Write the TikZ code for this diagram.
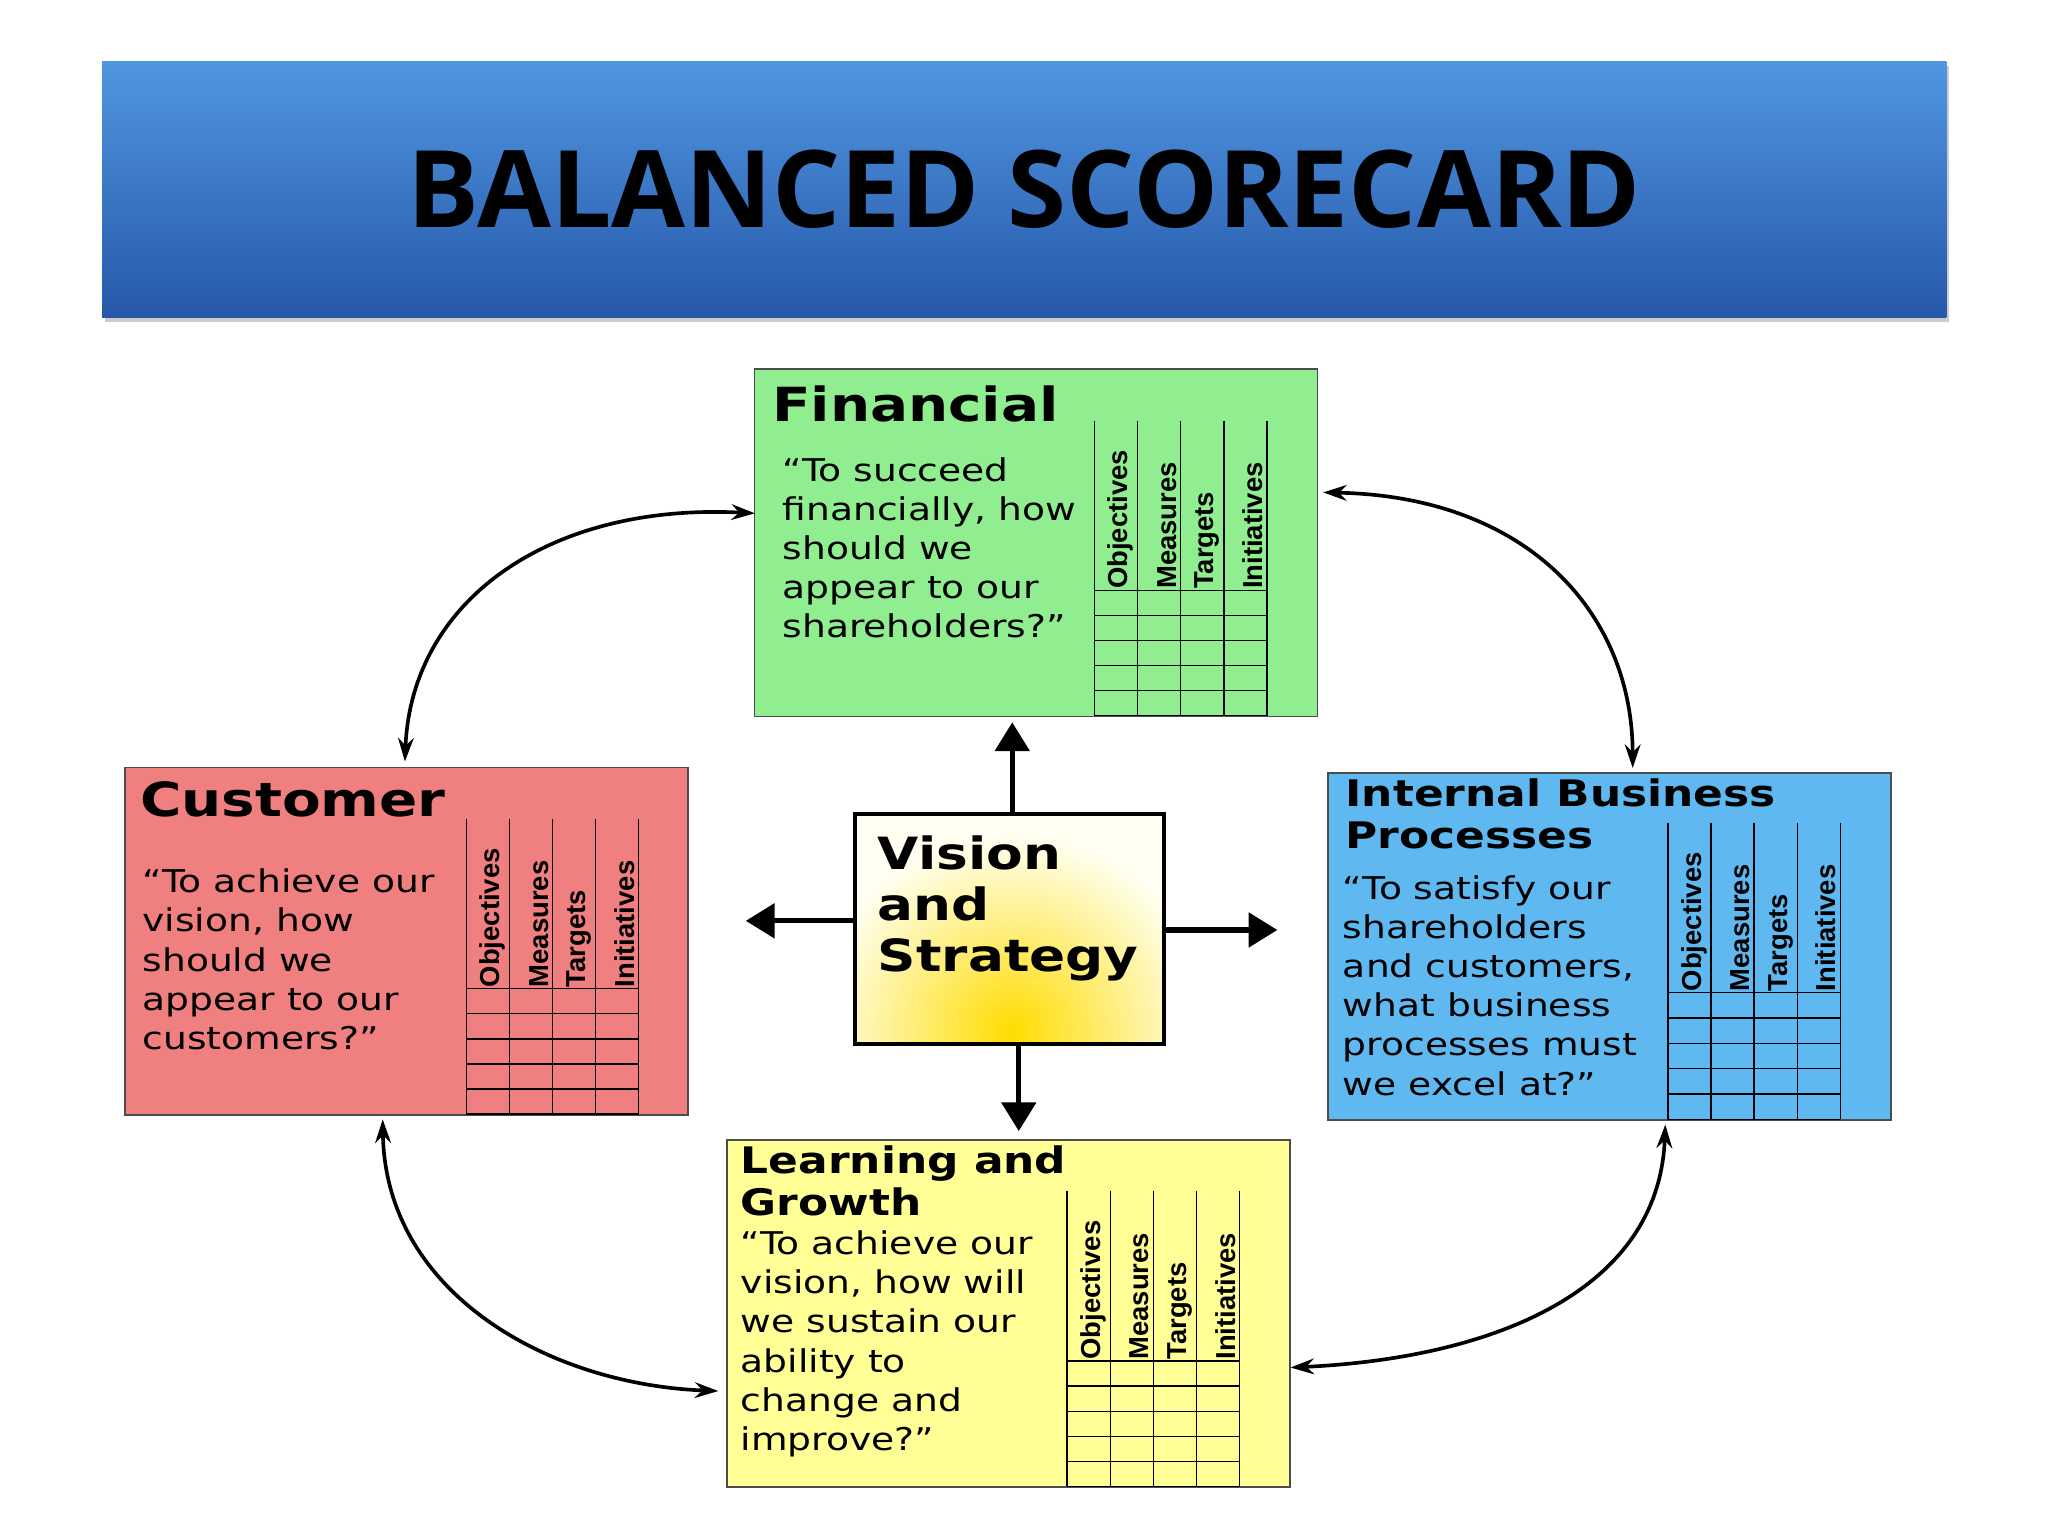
\documentclass[tikz,border=0pt]{standalone}
\usepackage{fontspec}
\setmainfont[FakeStretch=1.2]{DejaVu Sans}
\newfontfamily\colf{Liberation Sans}
\newfontfamily\titf{Open Sans}
\usetikzlibrary{arrows.meta,shadows}
\tikzset{
 card/.style={draw=black!70,line width=1.2pt,anchor=north west,inner sep=0pt},
 head/.style={anchor=north west,inner sep=0pt,align=left,font=\fontsize{36}{36}\selectfont\bfseries},
 body/.style={anchor=north west,inner sep=0pt,align=left,font=\fontsize{24}{30}\selectfont},
 colh/.style={rotate=90,anchor=south west,inner sep=1pt,font=\colf\fontsize{21}{21}\selectfont\bfseries},
 grid/.style={line width=1pt,black},
 bigarrow/.style={line width=4pt,-{Triangle[length=22pt,width=26pt]}},
 cyc/.style={line width=2.8pt,{Stealth[length=18pt,width=12pt]}-{Stealth[length=18pt,width=12pt]}}
}
\newcommand\bsctable[4]{% x0, ytop, ygrid, ybot
 \foreach \i in {0,...,4}{\draw[grid] ({#1+33*\i},#2) -- ({#1+33*\i},#4);}
 \foreach \j in {0,...,5}{\draw[grid] (#1,{#3+(#4-#3)*\j/5}) -- ({#1+132},{#3+(#4-#3)*\j/5});}
 \node[colh] at ({#1+31},#3) {Objectives};
 \node[colh] at ({#1+64},#3) {Measures};
 \node[colh] at ({#1+97},#3) {Targets};
 \node[colh] at ({#1+130},#3) {Initiatives};
}
\begin{document}
\begin{tikzpicture}[x=1pt,y=-1pt]
\useasboundingbox (0,0) rectangle (1568,1176);
\fill[white] (0,0) rectangle (1568,1176);
% title
\node[draw=none,anchor=north west,minimum width=1412pt,minimum height=196pt,inner sep=0pt,
 top color={rgb,255:red,80;green,150;blue,225},bottom color={rgb,255:red,38;green,88;blue,170},
 drop shadow={shadow xshift=2pt,shadow yshift=-3pt,opacity=.4}] (title) at (78,47) {};
\node[font=\titf\fontsize{82}{82}\selectfont\bfseries] at (title.center) {BALANCED SCORECARD};
% cards
\node[card,fill={rgb,255:red,144;green,238;blue,144},minimum width=431pt,minimum height=266pt] (fin) at (577,282) {};
\node[card,fill={rgb,255:red,240;green,128;blue,128},minimum width=431pt,minimum height=266pt] (cus) at (95,587) {};
\node[card,fill={rgb,255:red,95;green,185;blue,240},minimum width=431pt,minimum height=266pt] (ibp) at (1016,591) {};
\node[card,fill={rgb,255:red,255;green,255;blue,150},minimum width=431pt,minimum height=266pt] (lg) at (556,872) {};
% financial
\node[head] at (591,295) {Financial};
\node[body] at (599,350) {“To succeed\\financially, how\\should we\\appear to our\\shareholders?”};
\bsctable{838}{322}{452}{548}
% customer
\node[head] at (107,598) {Customer};
\node[body] at (109,665) {“To achieve our\\vision, how\\should we\\appear to our\\customers?”};
\bsctable{357}{627}{757}{853}
% internal
\node[head,font=\fontsize{28}{32}\selectfont\bfseries] at (1030,596) {Internal Business\\Processes};
\node[body] at (1028,670) {“To satisfy our\\shareholders\\and customers,\\what business\\processes must\\we excel at?”};
\bsctable{1277}{630}{760}{857}
% learning
\node[head,font=\fontsize{28}{32}\selectfont\bfseries] at (567,877) {Learning and\\Growth};
\node[body] at (567,942) {“To achieve our\\vision, how will\\we sustain our\\ability to\\change and\\improve?”};
\bsctable{817}{912}{1042}{1138}
% vision
\begin{scope}
\clip (653,622) rectangle (890,798);
\fill[yellow!6] (653,622) rectangle (890,798);
\shade[inner color={rgb,255:red,255;green,220;blue,0},outer color=yellow!6] (775,790) circle (150);
\end{scope}
\node[draw=black,line width=3pt,anchor=north west,minimum width=237pt,minimum height=176pt,inner sep=0pt] (vis) at (653,622) {};
\node[anchor=north west,inner sep=0pt,align=left,font=\fontsize{34}{39}\selectfont\bfseries] at (672,640) {Vision\\and\\Strategy};
% center arrows
\coordinate (vt) at (775,622); \coordinate (vl) at (653,705);
\coordinate (vr) at (890,712); \coordinate (vb) at (780,798);
\draw[bigarrow] (vt) -- (775,553);
\draw[bigarrow] (vl) -- (571,705);
\draw[bigarrow] (vr) -- (978,712);
\draw[bigarrow] (vb) -- (780,866);
% cycle arrows
\coordinate (a1) at (578,393); \coordinate (a2) at (310,583);
\coordinate (b1) at (1013,377); \coordinate (b2) at (1250,588);
\coordinate (c1) at (293,857); \coordinate (c2) at (550,1065);
\coordinate (d1) at (988,1047); \coordinate (d2) at (1275,861);
\draw[cyc] (a1) .. controls (420,385) and (315,460) .. (a2);
\draw[cyc] (b1) .. controls (1170,380) and (1250,470) .. (b2);
\draw[cyc] (c1) .. controls (295,990) and (420,1060) .. (c2);
\draw[cyc] (d1) .. controls (1140,1040) and (1270,990) .. (d2);
\end{tikzpicture}
\end{document}
